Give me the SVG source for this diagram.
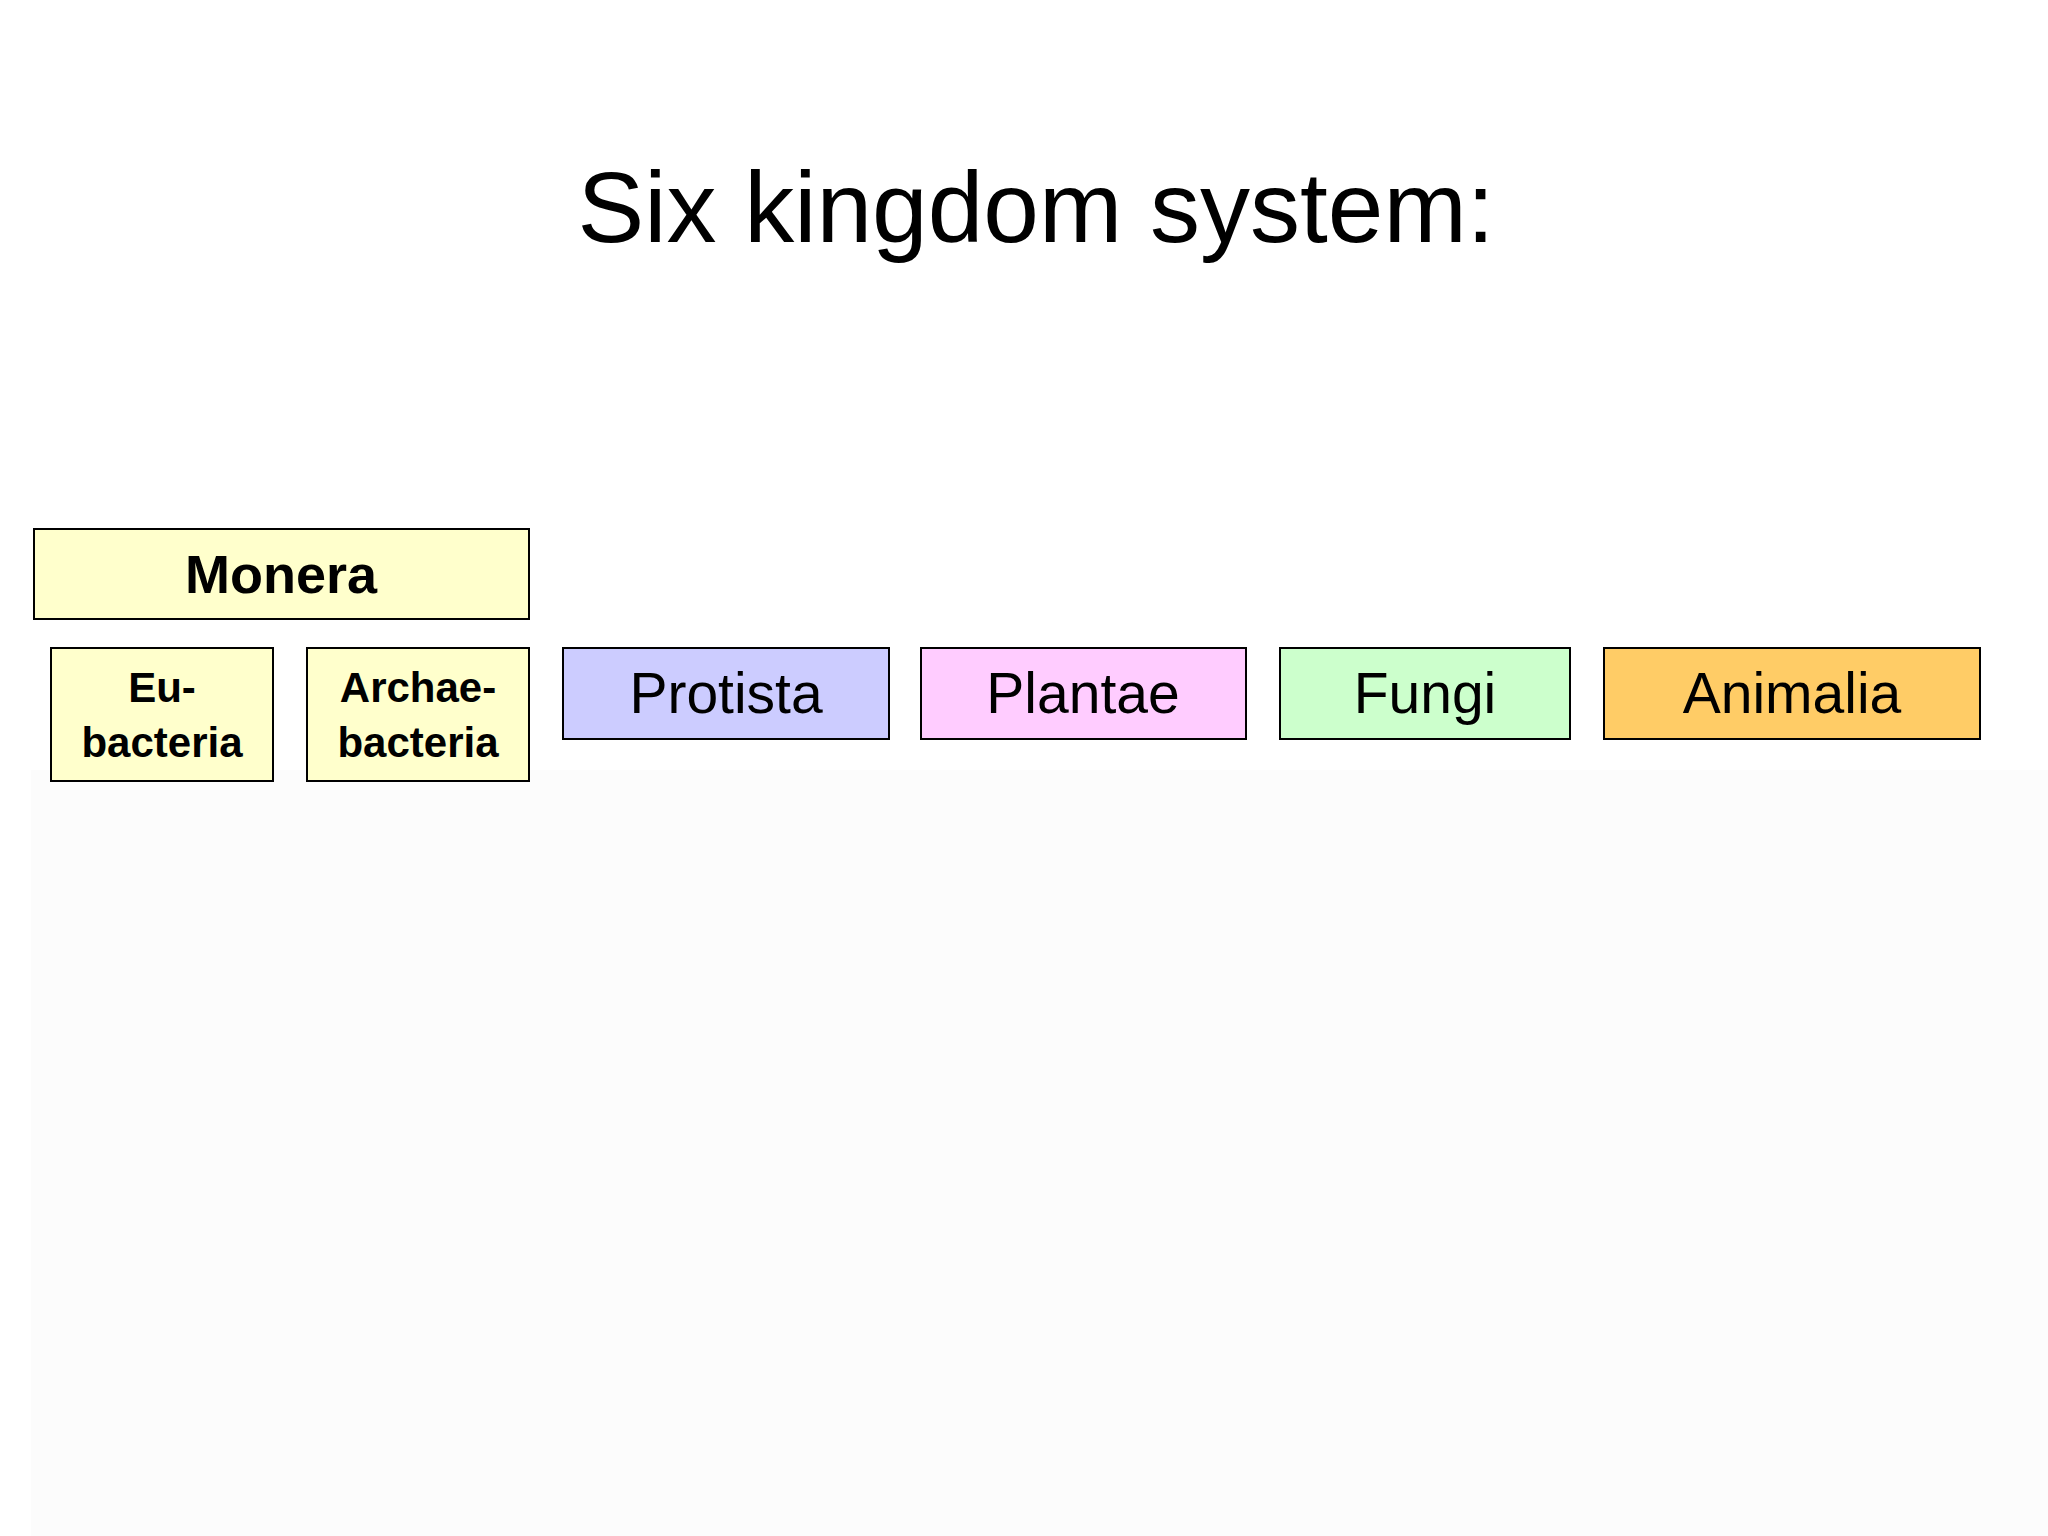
<svg xmlns="http://www.w3.org/2000/svg" width="2048" height="1536" viewBox="0 0 2048 1536">
<style>
.b{stroke:#000;stroke-width:2}
.t{font-family:"Liberation Sans",Arial,sans-serif;text-anchor:middle;fill:#000}
.bold{font-weight:bold}
</style>
<rect width="2048" height="1536" fill="#fff"/>
<rect x="31" y="770" width="2017" height="766" fill="#fcfcfc"/>
<text class="t" x="1036" y="242" font-size="100">Six kingdom system:</text>
<g id="monera"><rect class="b" x="34" y="529" width="495" height="90" fill="#FFFFCC"/><text class="t bold" x="281" y="593" font-size="54">Monera</text></g>
<g id="eubacteria"><rect class="b" x="51" y="648" width="222" height="133" fill="#FFFFCC"/><text class="t bold" x="162" y="702" font-size="42">Eu-</text><text class="t bold" x="162" y="757" font-size="42">bacteria</text></g>
<g id="archaebacteria"><rect class="b" x="307" y="648" width="222" height="133" fill="#FFFFCC"/><text class="t bold" x="418" y="702" font-size="42">Archae-</text><text class="t bold" x="418" y="757" font-size="42">bacteria</text></g>
<g id="protista"><rect class="b" x="563" y="648" width="326" height="91" fill="#CCCCFF"/><text class="t" x="726" y="713" font-size="57">Protista</text></g>
<g id="plantae"><rect class="b" x="921" y="648" width="325" height="91" fill="#FFCCFF"/><text class="t" x="1083" y="713" font-size="57">Plantae</text></g>
<g id="fungi"><rect class="b" x="1280" y="648" width="290" height="91" fill="#CCFFCC"/><text class="t" x="1425" y="713" font-size="57">Fungi</text></g>
<g id="animalia"><rect class="b" x="1604" y="648" width="376" height="91" fill="#FFCC66"/><text class="t" x="1792" y="713" font-size="57">Animalia</text></g>
<g id="connectors"/>
</svg>
